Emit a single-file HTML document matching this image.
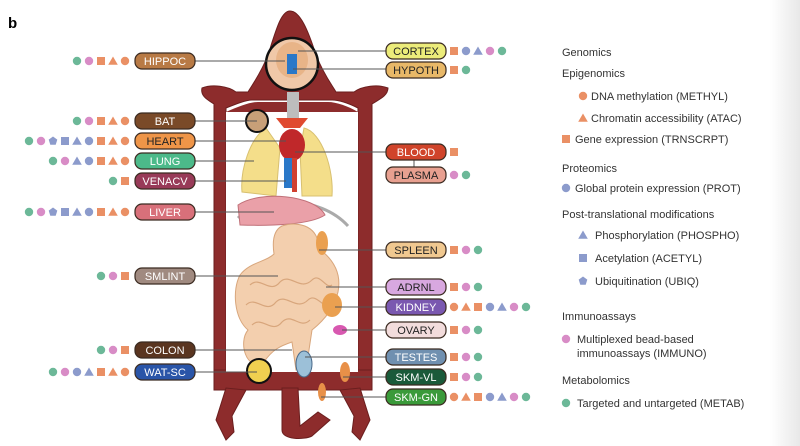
<!DOCTYPE html>
<html><head><meta charset="utf-8"><style>
html,body{margin:0;padding:0;background:#fff;}
svg{display:block;font-family:"Liberation Sans",sans-serif;}
.pl{font-size:11px;text-anchor:middle;}
.lg{font-size:11px;fill:#333;}
</style></head><body>
<svg width="800" height="446" viewBox="0 0 800 446" xmlns="http://www.w3.org/2000/svg">
<defs>
<linearGradient id="edge" x1="0" x2="1"><stop offset="0" stop-color="#fff"/><stop offset="1" stop-color="#e8e8e8"/></linearGradient>
<g id="Mc"><circle r="4.2" fill="#6cb898"/></g>
<g id="Ic"><circle r="4.2" fill="#d88cc6"/></g>
<g id="Pc"><circle r="4.2" fill="#8c9bcc"/></g>
<g id="Oc"><circle r="4.2" fill="#ea9065"/></g>
<g id="Ot"><polygon points="0,-4.5 4.8,3.8 -4.8,3.8" fill="#ea9065"/></g>
<g id="Pt"><polygon points="0,-4.5 4.8,3.8 -4.8,3.8" fill="#8c9bcc"/></g>
<g id="Os"><rect x="-4" y="-4" width="8" height="8" fill="#ea9065"/></g>
<g id="As"><rect x="-4" y="-4" width="8" height="8" fill="#8c9bcc"/></g>
<g id="Up"><polygon points="0,-4.5 4.3,-1.4 2.7,3.8 -2.7,3.8 -4.3,-1.4" fill="#8c9bcc"/></g>
</defs>
<rect x="770" y="0" width="30" height="446" fill="url(#edge)"/>
<text x="8" y="28" font-size="15" font-weight="bold" fill="#000">b</text>

<!-- body -->
<g fill="#8d2c2c" stroke="#6a1e1e" stroke-width="1">
<path d="M290,11 C281,11 276,30 268,55 C260,75 252,85 248,92 L236,92 C228,86 212,84 202,88 C200,96 208,100 214,104 L214,380 L226,380 L226,108 C236,104 246,100 252,100 L332,100 C340,100 350,104 358,108 L358,380 L372,380 L372,104 C378,100 388,96 388,88 C378,84 362,86 354,92 L336,92 C332,85 324,75 316,55 C308,30 300,11 290,11 Z"/>
<path d="M214,370 L372,370 L372,390 L214,390 Z"/>
<path d="M226,388 L216,420 L226,440 L234,432 L232,416 L246,390 Z"/>
<path d="M360,388 L370,420 L360,440 L352,432 L354,416 L340,390 Z"/>
<path d="M282,388 L282,430 C282,440 304,440 312,436 L330,420 L318,412 L300,426 L298,388 Z"/>
</g>
<path d="M226,112 L358,112 L358,372 L226,372 Z" fill="#fff"/>
<path d="M226,112 C240,106 250,102 258,102 L328,102 C336,102 348,106 358,112" fill="#8d2c2c"/>
<!-- brain area -->
<circle cx="292" cy="64" r="26" fill="#f0c8a8"/>
<ellipse cx="292" cy="60" rx="16" ry="18" fill="#e8b488"/>
<path d="M287,54 L297,54 L297,74 L287,74 Z" fill="#2a78c8"/>
<circle cx="292" cy="64" r="26" fill="none" stroke="#111" stroke-width="2.5"/>
<!-- spine -->
<rect x="287" y="92" width="12" height="32" fill="#bdbdbd"/>
<!-- lungs -->
<path d="M266,128 C250,138 240,170 242,192 L276,196 L280,148 Z" fill="#f4de8a" stroke="#d8c070"/>
<path d="M304,128 C322,132 334,170 332,196 L302,196 L300,150 Z" fill="#f4de8a" stroke="#d8c070"/>
<path d="M276,118 L308,118 L300,128 L284,128 Z" fill="#e04a30"/>
<ellipse cx="292" cy="145" rx="13" ry="16" fill="#c0282a"/>
<rect x="284" y="158" width="8" height="30" fill="#2a78c8"/>
<rect x="292" y="158" width="5" height="34" fill="#d04030"/>
<!-- diaphragm -->
<path d="M238,218 C260,195 320,195 348,226" fill="none" stroke="#aaa" stroke-width="3"/>
<!-- liver -->
<path d="M238,205 C260,190 315,195 325,215 C310,225 270,226 240,225 Z" fill="#eaa0a8" stroke="#c07078"/>
<!-- intestines -->
<path d="M282,226 C300,220 320,228 318,248 C332,258 342,272 338,292 C334,310 322,322 312,330 L306,370 L296,370 L292,342 C280,346 272,350 264,362 C246,372 238,342 248,330 C234,318 232,290 240,275 C250,262 266,262 274,254 C272,240 274,230 282,226 Z" fill="#f3cfae" stroke="#d8a67c"/>
<g fill="none" stroke="#d8a67c" stroke-width="1.2">
<path d="M250,285 C260,275 270,295 280,282 C290,272 300,292 312,280 C320,272 326,290 332,285"/>
<path d="M246,305 C256,295 266,315 276,302 C286,292 296,312 308,300 C316,292 324,310 330,305"/>
<path d="M252,325 C262,315 272,335 282,322 C292,312 300,330 310,320"/>
</g>
<ellipse cx="322" cy="243" rx="6" ry="12" fill="#eaa050"/>
<ellipse cx="332" cy="305" rx="10" ry="12" fill="#eaa050"/>
<ellipse cx="340" cy="330" rx="7" ry="5" fill="#d858b0"/>
<ellipse cx="304" cy="364" rx="8" ry="13" fill="#9cc0d8" stroke="#4a6a8a"/>
<ellipse cx="345" cy="372" rx="5" ry="10" fill="#e89048"/>
<ellipse cx="322" cy="392" rx="4" ry="9" fill="#e89048"/>
<circle cx="257" cy="121" r="11" fill="#c8a078" stroke="#111" stroke-width="2"/>
<circle cx="259" cy="371" r="12" fill="#f0d050" stroke="#111" stroke-width="2"/>

<!-- connectors -->
<g stroke="#555" stroke-width="1" fill="none">
<line x1="195" y1="61" x2="285" y2="61"/>
<line x1="195" y1="121" x2="257" y2="121"/>
<line x1="195" y1="141" x2="286" y2="141"/>
<line x1="195" y1="161" x2="254" y2="161"/>
<line x1="195" y1="181" x2="286" y2="181"/>
<line x1="195" y1="212" x2="274" y2="212"/>
<line x1="195" y1="276" x2="278" y2="276"/>
<line x1="195" y1="350" x2="292" y2="350"/>
<line x1="195" y1="372" x2="257" y2="372"/>
<line x1="298" y1="51" x2="386" y2="51"/>
<line x1="293" y1="69" x2="386" y2="69"/>
<line x1="295" y1="152" x2="386" y2="152"/>
<line x1="414" y1="160" x2="414" y2="167"/>
<line x1="319" y1="250" x2="386" y2="250"/>
<line x1="326" y1="287" x2="386" y2="287"/>
<line x1="335" y1="307" x2="386" y2="307"/>
<line x1="342" y1="330" x2="386" y2="330"/>
<line x1="305" y1="357" x2="386" y2="357"/>
<line x1="343" y1="377" x2="386" y2="377"/>
<line x1="321" y1="397" x2="386" y2="397"/>
</g>

<!-- pills -->
<g stroke="#3a2a20" stroke-width="1.2">
<rect x="135" y="53" width="60" height="16" rx="7" fill="#b87a45"/>
<rect x="135" y="113" width="60" height="16" rx="7" fill="#7a4a28"/>
<rect x="135" y="133" width="60" height="16" rx="7" fill="#ef9548"/>
<rect x="135" y="153" width="60" height="16" rx="7" fill="#4cba8a"/>
<rect x="135" y="173" width="60" height="16" rx="7" fill="#983a58"/>
<rect x="135" y="204" width="60" height="16" rx="7" fill="#d8707a"/>
<rect x="135" y="268" width="60" height="16" rx="7" fill="#a08a80"/>
<rect x="135" y="342" width="60" height="16" rx="7" fill="#5a3520"/>
<rect x="135" y="364" width="60" height="16" rx="7" fill="#2a55a8"/>
<rect x="386" y="43" width="60" height="16" rx="7" fill="#ecec7a"/>
<rect x="386" y="62" width="60" height="16" rx="7" fill="#e8b868"/>
<rect x="386" y="144" width="60" height="16" rx="7" fill="#d0442a"/>
<rect x="386" y="167" width="60" height="16" rx="7" fill="#e8a090"/>
<rect x="386" y="242" width="60" height="16" rx="7" fill="#f0c890"/>
<rect x="386" y="279" width="60" height="16" rx="7" fill="#d8a8e0"/>
<rect x="386" y="299" width="60" height="16" rx="7" fill="#7a58b0"/>
<rect x="386" y="322" width="60" height="16" rx="7" fill="#f2dcdc"/>
<rect x="386" y="349" width="60" height="16" rx="7" fill="#7090b0"/>
<rect x="386" y="369" width="60" height="16" rx="7" fill="#1a5a3a"/>
<rect x="386" y="389" width="60" height="16" rx="7" fill="#3a9a3a"/>
</g>
<g class="pl">
<text x="165" y="65" fill="#fff">HIPPOC</text>
<text x="165" y="125" fill="#fff">BAT</text>
<text x="165" y="145" fill="#222">HEART</text>
<text x="165" y="165" fill="#fff">LUNG</text>
<text x="165" y="185" fill="#fff">VENACV</text>
<text x="165" y="216" fill="#fff">LIVER</text>
<text x="165" y="280" fill="#fff">SMLINT</text>
<text x="165" y="354" fill="#fff">COLON</text>
<text x="165" y="376" fill="#fff">WAT-SC</text>
<text x="416" y="55" fill="#222">CORTEX</text>
<text x="416" y="74" fill="#222">HYPOTH</text>
<text x="416" y="156" fill="#fff">BLOOD</text>
<text x="416" y="179" fill="#222">PLASMA</text>
<text x="416" y="254" fill="#222">SPLEEN</text>
<text x="416" y="291" fill="#222">ADRNL</text>
<text x="416" y="311" fill="#fff">KIDNEY</text>
<text x="416" y="334" fill="#222">OVARY</text>
<text x="416" y="361" fill="#fff">TESTES</text>
<text x="416" y="381" fill="#fff">SKM-VL</text>
<text x="416" y="401" fill="#fff">SKM-GN</text>
</g>

<g>
<use href="#Oc" x="125" y="61"/><use href="#Ot" x="113" y="61"/><use href="#Os" x="101" y="61"/><use href="#Ic" x="89" y="61"/><use href="#Mc" x="77" y="61"/>
<use href="#Oc" x="125" y="121"/><use href="#Ot" x="113" y="121"/><use href="#Os" x="101" y="121"/><use href="#Ic" x="89" y="121"/><use href="#Mc" x="77" y="121"/>
<use href="#Oc" x="125" y="141"/><use href="#Ot" x="113" y="141"/><use href="#Os" x="101" y="141"/><use href="#Pc" x="89" y="141"/><use href="#Pt" x="77" y="141"/><use href="#As" x="65" y="141"/><use href="#Up" x="53" y="141"/><use href="#Ic" x="41" y="141"/><use href="#Mc" x="29" y="141"/>
<use href="#Oc" x="125" y="161"/><use href="#Ot" x="113" y="161"/><use href="#Os" x="101" y="161"/><use href="#Pc" x="89" y="161"/><use href="#Pt" x="77" y="161"/><use href="#Ic" x="65" y="161"/><use href="#Mc" x="53" y="161"/>
<use href="#Os" x="125" y="181"/><use href="#Mc" x="113" y="181"/>
<use href="#Oc" x="125" y="212"/><use href="#Ot" x="113" y="212"/><use href="#Os" x="101" y="212"/><use href="#Pc" x="89" y="212"/><use href="#Pt" x="77" y="212"/><use href="#As" x="65" y="212"/><use href="#Up" x="53" y="212"/><use href="#Ic" x="41" y="212"/><use href="#Mc" x="29" y="212"/>
<use href="#Os" x="125" y="276"/><use href="#Ic" x="113" y="276"/><use href="#Mc" x="101" y="276"/>
<use href="#Os" x="125" y="350"/><use href="#Ic" x="113" y="350"/><use href="#Mc" x="101" y="350"/>
<use href="#Oc" x="125" y="372"/><use href="#Ot" x="113" y="372"/><use href="#Os" x="101" y="372"/><use href="#Pt" x="89" y="372"/><use href="#Pc" x="77" y="372"/><use href="#Ic" x="65" y="372"/><use href="#Mc" x="53" y="372"/>
</g>
<g>
<use href="#Os" x="454" y="51"/><use href="#Pc" x="466" y="51"/><use href="#Pt" x="478" y="51"/><use href="#Ic" x="490" y="51"/><use href="#Mc" x="502" y="51"/>
<use href="#Os" x="454" y="70"/><use href="#Mc" x="466" y="70"/>
<use href="#Os" x="454" y="152"/>
<use href="#Ic" x="454" y="175"/><use href="#Mc" x="466" y="175"/>
<use href="#Os" x="454" y="250"/><use href="#Ic" x="466" y="250"/><use href="#Mc" x="478" y="250"/>
<use href="#Os" x="454" y="287"/><use href="#Ic" x="466" y="287"/><use href="#Mc" x="478" y="287"/>
<use href="#Oc" x="454" y="307"/><use href="#Ot" x="466" y="307"/><use href="#Os" x="478" y="307"/><use href="#Pc" x="490" y="307"/><use href="#Pt" x="502" y="307"/><use href="#Ic" x="514" y="307"/><use href="#Mc" x="526" y="307"/>
<use href="#Os" x="454" y="330"/><use href="#Ic" x="466" y="330"/><use href="#Mc" x="478" y="330"/>
<use href="#Os" x="454" y="357"/><use href="#Ic" x="466" y="357"/><use href="#Mc" x="478" y="357"/>
<use href="#Os" x="454" y="377"/><use href="#Ic" x="466" y="377"/><use href="#Mc" x="478" y="377"/>
<use href="#Oc" x="454" y="397"/><use href="#Ot" x="466" y="397"/><use href="#Os" x="478" y="397"/><use href="#Pc" x="490" y="397"/><use href="#Pt" x="502" y="397"/><use href="#Ic" x="514" y="397"/><use href="#Mc" x="526" y="397"/>
</g>

<g class="lg">
<text x="562" y="56">Genomics</text>
<text x="562" y="77">Epigenomics</text>
<use href="#Oc" x="583" y="96"/><text x="591" y="100">DNA methylation (METHYL)</text>
<use href="#Ot" x="583" y="118"/><text x="591" y="122">Chromatin accessibility (ATAC)</text>
<use href="#Os" x="566" y="139"/><text x="575" y="143">Gene expression (TRNSCRPT)</text>
<text x="562" y="172">Proteomics</text>
<use href="#Pc" x="566" y="188"/><text x="575" y="192">Global protein expression (PROT)</text>
<text x="562" y="218">Post-translational modifications</text>
<use href="#Pt" x="583" y="235"/><text x="595" y="239">Phosphorylation (PHOSPHO)</text>
<use href="#As" x="583" y="258"/><text x="595" y="262">Acetylation (ACETYL)</text>
<use href="#Up" x="583" y="281"/><text x="595" y="285">Ubiquitination (UBIQ)</text>
<text x="562" y="320">Immunoassays</text>
<use href="#Ic" x="566" y="339"/><text x="577" y="343">Multiplexed bead-based</text>
<text x="577" y="357">immunoassays (IMMUNO)</text>
<text x="562" y="384">Metabolomics</text>
<use href="#Mc" x="566" y="403"/><text x="577" y="407">Targeted and untargeted (METAB)</text>
</g>
</svg>
</body></html>
